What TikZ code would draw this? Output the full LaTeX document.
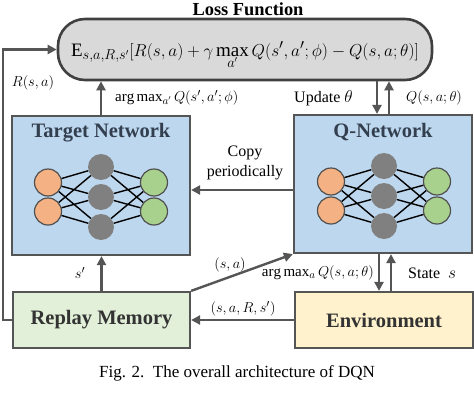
\documentclass[tikz,border=0pt]{standalone}
\usepackage{fontspec}
\setmainfont{Liberation Serif}
\usetikzlibrary{arrows.meta}
\definecolor{bordercol}{HTML}{555555}
\definecolor{lossborder}{HTML}{404040}
\definecolor{lossfill}{HTML}{D9D9D9}
\definecolor{netfill}{HTML}{BDD7EE}
\definecolor{rmfill}{HTML}{E2F0D9}
\definecolor{envfill}{HTML}{FFF2CC}
\definecolor{orangec}{HTML}{F4B183}
\definecolor{greenc}{HTML}{A9D18E}
\definecolor{hidcol}{HTML}{808080}
\definecolor{nodeline}{HTML}{505050}
\definecolor{titlec}{HTML}{333F4F}
\definecolor{textc}{HTML}{333333}
\newcommand\dqnnet[3]{%
  \node[inn, fill=orangec] (#1i1) at (#2-53,#3-14.5) {};
  \node[inn, fill=orangec] (#1i2) at (#2-53,#3+14.5) {};
  \node[hid] (#1h1) at (#2,#3-30) {};
  \node[hid] (#1h2) at (#2,#3) {};
  \node[hid] (#1h3) at (#2,#3+30) {};
  \node[inn, fill=greenc] (#1o1) at (#2+53,#3-14.5) {};
  \node[inn, fill=greenc] (#1o2) at (#2+53,#3+14.5) {};
  \foreach \i in {1,2}{\foreach \h in {1,2,3}{
    \draw[link] (#1i\i) -- (#1h\h);
    \draw[link] (#1h\h) -- (#1o\i);}}%
}
\begin{document}
\begin{tikzpicture}[x=1pt,y=-1pt,
  box/.style={draw=bordercol, line width=2.2pt, minimum width=178pt, inner sep=0pt},
  arr/.style={draw=bordercol, line width=2.4pt, -{Triangle[length=9pt,width=9pt]}},
  lbl/.style={font=\fontsize{16}{19}\selectfont, inner sep=0pt},
  mlbl/.style={font=\fontsize{15}{18}\selectfont, inner sep=0pt},
  ttl/.style={font=\fontsize{20.5}{24}\selectfont\bfseries, inner sep=0pt},
  inn/.style={circle, draw=nodeline, line width=1.2pt, minimum size=27pt, inner sep=0pt},
  hid/.style={circle, fill=hidcol, minimum size=26pt, inner sep=0pt},
  link/.style={line width=1.4pt, black}]
\useasboundingbox (0,0) rectangle (474,402);
% boxes
\node[draw=lossborder, line width=2.6pt, fill=lossfill, rounded corners=27pt,
      minimum width=374pt, minimum height=61pt] (loss) at (245,49.5) {};
\node[box, fill=netfill, minimum height=139pt] (tgt) at (101,185.5) {};
\node[box, fill=netfill, minimum height=138pt] (qn) at (383,184) {};
\node[box, fill=rmfill, minimum width=177pt, minimum height=56pt, ttl, text=textc] (rm) at (101.5,320) {Replay Memory};
\node[box, fill=envfill, minimum height=56pt, ttl, text=textc] (env) at (384,320) {Environment};
% titles
\node[font=\fontsize{18.4}{22}\selectfont\bfseries, inner sep=0pt] (losst) at (248,9) {Loss Function};
\node[font=\fontsize{19}{23}\selectfont, inner sep=0pt, anchor=base] (form) at (245,56)
  {$\mathrm{E}_{s,a,R,s'}[R(s,a)+\gamma\max\limits_{a'}Q(s',a';\phi)-Q(s,a;\theta)]$};
\node[ttl, text=titlec] (tgtt) at (101,133) {Target Network};
\node[ttl, text=titlec] (qnt) at (383,132) {Q-Network};
% networks
\dqnnet{t}{101}{197}
\dqnnet{q}{384}{196}
% helper coordinates
\coordinate (cpy) at (0,190);
\coordinate (fb) at (3,320);
% arrows
\draw[arr] (tgt.north) -- (tgt.north |- loss.south);
\draw[arr] ([xshift=-6pt]qn.north |- loss.south) -- ([xshift=-6pt]qn.north);
\draw[arr] ([xshift=6pt]qn.north) -- ([xshift=6pt]qn.north |- loss.south);
\draw[arr] (qn.west |- cpy) -- (tgt.east |- cpy);
\draw[arr] (rm.north) -- (rm.north |- tgt.south);
\draw[arr] (rm.north east) -- (qn.south west);
\draw[arr] ([xshift=-5pt]env.north |- qn.south) -- ([xshift=-5pt]env.north);
\draw[arr] ([xshift=7pt]env.north) -- ([xshift=7pt]env.north |- qn.south);
\draw[arr] (env.west) -- (rm.east);
\draw[arr] (rm.west) -- (fb) |- (loss.west);
% labels
\node[mlbl] (lrsa) at (33,83) {$R(s,a)$};
\node[mlbl, anchor=west] (lam1) at (115,98) {$\arg\max_{a'} Q(s',a';\phi)$};
\node[lbl, anchor=west] (lupd) at (294,98) {Update $\theta$};
\node[mlbl, anchor=west] (lq) at (406,98) {$Q(s,a;\theta)$};
\node[lbl, align=center] (lcopy) at (245,163) {Copy\\[1pt]periodically};
\node[mlbl] (lsa) at (230,265) {$(s,a)$};
\node[mlbl, anchor=east] (lam2) at (374,273) {$\arg\max_{a} Q(s,a;\theta)$};
\node[lbl, anchor=west] (lst) at (408,273) {State\ \ $s$};
\node[mlbl] (lsp) at (80,273) {$s'$};
\node[mlbl] (ltr) at (243,309) {$(s,a,R,s')$};
\node[font=\fontsize{17}{20}\selectfont, inner sep=0pt] (cap) at (237,373) {Fig. 2.\ \ The overall architecture of DQN};
\end{tikzpicture}
\end{document}
